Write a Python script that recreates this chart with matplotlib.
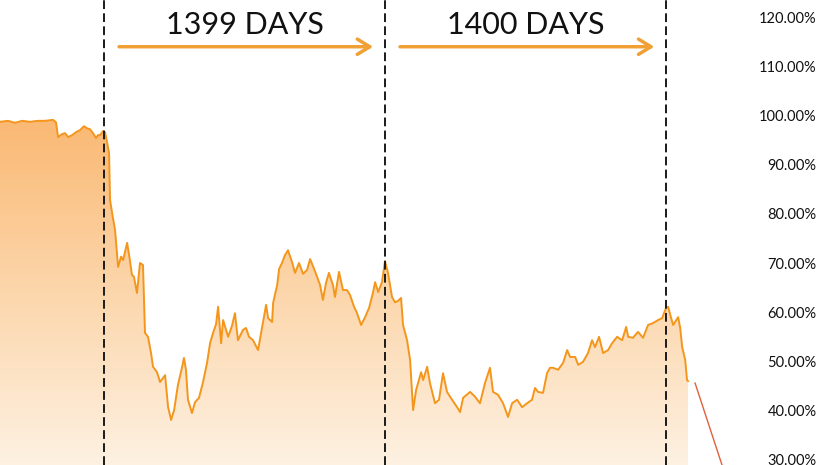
import numpy as np
import matplotlib.pyplot as plt
from matplotlib.colors import LinearSegmentedColormap

plt.rcParams['font.family'] = ['Lato', 'DejaVu Sans']

# days relative to first marker, value in %
days = [-518, -478, -443, -408, -369, -329, -294, -254, -239, -229, -209, -194, -179, -159,
        -139, -120, -100, -85, -70, -55, -40, -30, -20, -5, 5, 15, 25, 30, 45, 55, 70, 85,
        95, 115, 125, 139, 149, 164, 179, 194, 204, 219, 234, 244, 264, 279, 304, 319, 334,
        349, 368, 388, 398, 408, 418, 438, 453, 473, 493, 513, 528, 543, 558, 568, 583, 593,
        608, 618, 637, 652, 667, 692, 707, 722, 742, 767, 792, 807, 817, 837, 842, 862, 872,
        886, 901, 916, 936, 951, 971, 991, 1011, 1026, 1046, 1061, 1076, 1090, 1105, 1120,
        1140, 1150, 1170, 1190, 1210, 1225, 1245, 1260, 1280, 1300, 1320, 1340, 1350, 1365,
        1384, 1399, 1414, 1434, 1449, 1464, 1479, 1489, 1509, 1524, 1539, 1554, 1579, 1589,
        1609, 1623, 1648, 1668, 1688, 1708, 1733, 1758, 1773, 1788, 1823, 1848, 1872, 1897,
        1922, 1937, 1962, 1987, 2012, 2032, 2057, 2082, 2107, 2131, 2146, 2161, 2186, 2206,
        2221, 2236, 2261, 2286, 2306, 2321, 2346, 2361, 2385, 2410, 2430, 2445, 2465, 2485,
        2510, 2530, 2555, 2580, 2600, 2610, 2634, 2659, 2684, 2709, 2734, 2759, 2779, 2799,
        2809, 2824, 2834, 2859, 2869, 2879, 2894, 2903, 2908]
values = [98.7, 98.9, 98.5, 98.9, 98.7, 98.9, 98.9, 99.1, 98.6, 95.6, 96.2, 96.4, 95.6, 96.0,
          96.6, 97.0, 97.8, 97.4, 97.2, 96.4, 95.4, 96.0, 96.0, 96.8, 96.6, 94.6, 92.4, 82.8,
          79.0, 76.7, 69.2, 71.3, 70.6, 74.1, 71.6, 67.6, 67.2, 63.9, 70.0, 69.6, 55.8, 55.0,
          51.7, 48.9, 47.8, 45.8, 47.2, 40.7, 38.1, 40.1, 45.2, 48.7, 50.7, 48.3, 42.2, 39.5,
          41.7, 42.6, 45.8, 49.7, 53.7, 55.8, 57.6, 61.1, 53.7, 58.4, 56.4, 55.0, 57.2, 59.8,
          54.3, 56.4, 56.8, 55.0, 54.3, 52.3, 58.0, 61.5, 58.8, 58.0, 61.9, 65.5, 68.8, 70.0,
          71.6, 72.6, 70.2, 68.0, 70.0, 67.8, 68.6, 70.8, 68.8, 67.2, 65.5, 62.5, 65.9, 68.0,
          65.5, 63.1, 68.2, 64.5, 64.5, 63.5, 61.1, 59.8, 57.4, 59.0, 60.9, 64.1, 66.1, 64.1,
          66.1, 70.4, 68.0, 63.1, 62.0, 62.3, 62.9, 57.4, 54.3, 50.3, 40.1, 44.2, 47.8, 46.2,
          48.9, 45.6, 41.5, 42.2, 47.6, 43.8, 42.2, 40.7, 39.7, 42.6, 43.8, 42.8, 41.5, 45.6,
          48.7, 43.8, 43.2, 41.5, 38.7, 41.5, 42.2, 40.7, 41.5, 42.2, 44.6, 43.8, 43.6, 47.6,
          48.7, 48.7, 48.3, 49.7, 52.3, 50.9, 50.9, 49.3, 49.9, 51.7, 54.3, 52.9, 55.0, 51.7,
          52.3, 53.7, 55.0, 54.3, 57.0, 55.0, 54.8, 56.0, 54.8, 57.4, 57.8, 58.4, 58.8, 60.9,
          61.1, 58.8, 57.4, 59.0, 56.8, 52.9, 50.3, 46.2, 46.0]

marker_days = [0, 1399, 2799]
spans = ["1399 DAYS", "1400 DAYS"]
trend_days = [2943, 3109]
trend_values = [45.6, 25.0]
yticks = [30, 40, 50, 60, 70, 80, 90, 100, 110, 120]

fig = plt.figure(figsize=(8.29, 4.65), dpi=100)
ax = fig.add_axes([0, 0, 1, 1])
ax.set_xlim(-518, 3610)
ax.set_ylim(28.94, 123.46)

# gradient fill under the line
cmap = LinearSegmentedColormap.from_list('fade', ['#fef1e2', '#fcd6ab', '#fab872'])
grad = np.linspace(0, 1, 256).reshape(-1, 1)
img = ax.imshow(grad, cmap=cmap, aspect='auto', origin='lower',
                extent=(days[0], days[-1], 28.94, 100), zorder=1)
poly = ax.fill_between(days, values, 0, color='none', lw=0)
img.set_clip_path(poly.get_paths()[0], transform=ax.transData)
ax.plot(days, values, color='#f4961c', lw=1.4, zorder=3)

ax.plot(trend_days, trend_values, color='#e0603c', lw=1.0, zorder=3)

for d in marker_days:
    ax.axvline(d, color='#1a1a1a', lw=1.4, ls=(0, (4.5, 2.2)), zorder=4)

orange = '#f0a035'
for i, label in enumerate(spans):
    a, b = marker_days[i], marker_days[i + 1]
    ax.annotate('', xy=(b - 59, 113.96), xytext=(a + 75, 113.96),
                arrowprops=dict(arrowstyle='->,head_length=0.9,head_width=0.55',
                                color=orange, lw=2.5, shrinkA=0, shrinkB=0))
    ax.text(a + 702, 118.3, label, ha='center', va='center', fontsize=22, color='#111111')

ax.yaxis.tick_right()
ax.set_yticks(yticks)
ax.set_yticklabels([f"{t:.2f}%" for t in yticks])
ax.tick_params(axis='y', length=0, pad=-9, labelsize=10.5, labelcolor='#111111')
for lab in ax.get_yticklabels():
    lab.set_horizontalalignment('right')
ax.set_xticks([])
for s in ax.spines.values():
    s.set_visible(False)

fig.savefig('out.png', dpi=100)
